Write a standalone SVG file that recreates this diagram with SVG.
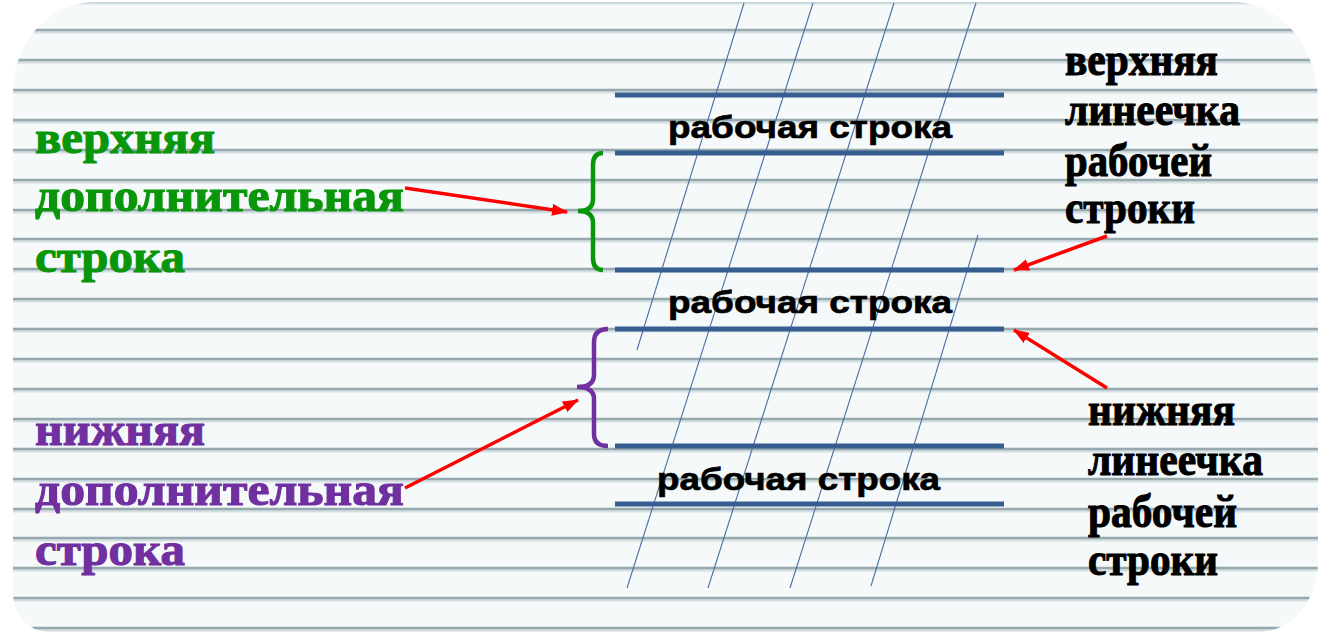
<svg xmlns="http://www.w3.org/2000/svg" width="1320" height="635" viewBox="0 0 1320 635">
<defs>
<clipPath id="sheet"><path d="M95,2 H1233 A85,100 0 0 1 1318,102 V562 A60,70 0 0 1 1258,632 H48 A35,40 0 0 1 13,592 V92 A82,90 0 0 1 95,2 Z"/></clipPath>
<marker id="ah" viewBox="0 0 16 12" refX="15" refY="6" markerWidth="16" markerHeight="12" markerUnits="userSpaceOnUse" orient="auto"><path d="M0,0 L16,6 L0,12 Z" fill="#ff0000"/></marker>
<style>
.rule{stroke:#97a9ae;stroke-width:2.4}
.ruleL{stroke:#d3dfe2;stroke-width:3}
.work{stroke:#375e91;stroke-width:5}
.slant{stroke:#4a6fa5;stroke-width:1.1}
.ws{font-family:"Liberation Sans",Arial,sans-serif;font-weight:bold;font-size:32px;fill:#000;stroke:#000;stroke-width:0.7}
.lbl{font-family:"Liberation Serif","Times New Roman",serif;font-weight:bold;font-size:47px;stroke-width:1.1}
.g{fill:#0a960a;stroke:#0a960a}
.p{fill:#7030a0;stroke:#7030a0}
.k{fill:#000;stroke:#000}
.arr{stroke:#ff0000;stroke-width:3.5;fill:none;marker-end:url(#ah)}
</style>
</defs>
<rect width="1320" height="635" fill="#ffffff"/>
<g id="sheet-bg" clip-path="url(#sheet)">
<rect x="0" y="0" width="1320" height="635" fill="#f5f9fa"/>
<g id="rules">
<line class="ruleL" x1="0" x2="1320" y1="3.1" y2="3.1"/><line class="rule" x1="0" x2="1320" y1="1" y2="1"/>
<line class="ruleL" x1="0" x2="1320" y1="32" y2="32"/><line class="rule" x1="0" x2="1320" y1="30" y2="30"/>
<line class="ruleL" x1="0" x2="1320" y1="62" y2="62"/><line class="rule" x1="0" x2="1320" y1="60" y2="60"/>
<line class="ruleL" x1="0" x2="1320" y1="92" y2="92"/><line class="rule" x1="0" x2="1320" y1="90" y2="90"/>
<line class="ruleL" x1="0" x2="1320" y1="122" y2="122"/><line class="rule" x1="0" x2="1320" y1="120" y2="120"/>
<line class="ruleL" x1="0" x2="1320" y1="152" y2="152"/><line class="rule" x1="0" x2="1320" y1="150" y2="150"/>
<line class="ruleL" x1="0" x2="1320" y1="182" y2="182"/><line class="rule" x1="0" x2="1320" y1="180" y2="180"/>
<line class="ruleL" x1="0" x2="1320" y1="212" y2="212"/><line class="rule" x1="0" x2="1320" y1="210" y2="210"/>
<line class="ruleL" x1="0" x2="1320" y1="241" y2="241"/><line class="rule" x1="0" x2="1320" y1="239" y2="239"/>
<line class="ruleL" x1="0" x2="1320" y1="271" y2="271"/><line class="rule" x1="0" x2="1320" y1="269" y2="269"/>
<line class="ruleL" x1="0" x2="1320" y1="301" y2="301"/><line class="rule" x1="0" x2="1320" y1="299" y2="299"/>
<line class="ruleL" x1="0" x2="1320" y1="331" y2="331"/><line class="rule" x1="0" x2="1320" y1="329" y2="329"/>
<line class="ruleL" x1="0" x2="1320" y1="361" y2="361"/><line class="rule" x1="0" x2="1320" y1="359" y2="359"/>
<line class="ruleL" x1="0" x2="1320" y1="391" y2="391"/><line class="rule" x1="0" x2="1320" y1="389" y2="389"/>
<line class="ruleL" x1="0" x2="1320" y1="421" y2="421"/><line class="rule" x1="0" x2="1320" y1="419" y2="419"/>
<line class="ruleL" x1="0" x2="1320" y1="451" y2="451"/><line class="rule" x1="0" x2="1320" y1="449" y2="449"/>
<line class="ruleL" x1="0" x2="1320" y1="481" y2="481"/><line class="rule" x1="0" x2="1320" y1="479" y2="479"/>
<line class="ruleL" x1="0" x2="1320" y1="511" y2="511"/><line class="rule" x1="0" x2="1320" y1="509" y2="509"/>
<line class="ruleL" x1="0" x2="1320" y1="540" y2="540"/><line class="rule" x1="0" x2="1320" y1="538" y2="538"/>
<line class="ruleL" x1="0" x2="1320" y1="570" y2="570"/><line class="rule" x1="0" x2="1320" y1="568" y2="568"/>
<line class="ruleL" x1="0" x2="1320" y1="600" y2="600"/><line class="rule" x1="0" x2="1320" y1="598" y2="598"/>
<line class="ruleL" x1="0" x2="1320" y1="630" y2="630"/><line class="rule" x1="0" x2="1320" y1="628" y2="628"/>
</g>
</g>
<g id="slants">
<line class="slant" x1="744" y1="3" x2="637" y2="350"/>
<line class="slant" x1="813" y1="3" x2="627" y2="588"/>
<line class="slant" x1="894" y1="3" x2="708" y2="588"/>
<line class="slant" x1="976" y1="3" x2="790" y2="588"/>
<line class="slant" x1="978" y1="235" x2="871" y2="586"/>
</g>
<g id="work-lines">
<line class="work" x1="615" y1="95" x2="1004" y2="95"/>
<line class="work" x1="615" y1="153" x2="1004" y2="153"/>
<line class="work" x1="615" y1="270" x2="1004" y2="270"/>
<line class="work" x1="615" y1="329" x2="1004" y2="329"/>
<line class="work" x1="615" y1="446" x2="1004" y2="446"/>
<line class="work" x1="615" y1="504" x2="1004" y2="504"/>
</g>
<g id="work-row-1"><text class="ws" x="668" y="138" textLength="284" lengthAdjust="spacingAndGlyphs">рабочая строка</text></g>
<g id="work-row-2"><text class="ws" x="668" y="313" textLength="284" lengthAdjust="spacingAndGlyphs">рабочая строка</text></g>
<g id="work-row-3"><text class="ws" x="657" y="490" textLength="283" lengthAdjust="spacingAndGlyphs">рабочая строка</text></g>
<g id="brace-upper"><path d="M603,153 Q593,153 593,165 L593,199 Q593,211 578,211 Q593,211 593,223 L593,258 Q593,270 603,270" fill="none" stroke="#0a960a" stroke-width="4.5"/></g>
<g id="brace-lower"><path d="M608,329 Q594,329 594,342 L594,375 Q594,387 577,387 Q594,387 594,399 L594,434 Q594,446 608,446" fill="none" stroke="#7030a0" stroke-width="4.5"/></g>
<g id="label-upper-extra">
<text class="lbl g" x="35" y="153" textLength="180" lengthAdjust="spacingAndGlyphs">верхняя</text>
<text class="lbl g" x="35" y="211" textLength="369" lengthAdjust="spacingAndGlyphs">дополнительная</text>
<text class="lbl g" x="35" y="272" textLength="150" lengthAdjust="spacingAndGlyphs">строка</text>
</g>
<g id="label-lower-extra">
<text class="lbl p" x="35" y="445" textLength="170" lengthAdjust="spacingAndGlyphs">нижняя</text>
<text class="lbl p" x="35" y="505" textLength="369" lengthAdjust="spacingAndGlyphs">дополнительная</text>
<text class="lbl p" x="35" y="565" textLength="150" lengthAdjust="spacingAndGlyphs">строка</text>
</g>
<g id="label-upper-line">
<text class="lbl k" x="1065" y="75" textLength="153" lengthAdjust="spacingAndGlyphs">верхняя</text>
<text class="lbl k" x="1065" y="125" textLength="175" lengthAdjust="spacingAndGlyphs">линеечка</text>
<text class="lbl k" x="1065" y="176" textLength="147" lengthAdjust="spacingAndGlyphs">рабочей</text>
<text class="lbl k" x="1065" y="223" textLength="130" lengthAdjust="spacingAndGlyphs">строки</text>
</g>
<g id="label-lower-line">
<text class="lbl k" x="1088" y="425" textLength="147" lengthAdjust="spacingAndGlyphs">нижняя</text>
<text class="lbl k" x="1088" y="475" textLength="175" lengthAdjust="spacingAndGlyphs">линеечка</text>
<text class="lbl k" x="1088" y="527" textLength="149" lengthAdjust="spacingAndGlyphs">рабочей</text>
<text class="lbl k" x="1088" y="575" textLength="130" lengthAdjust="spacingAndGlyphs">строки</text>
</g>
<g id="connectors">
<line class="arr" x1="405" y1="188" x2="567" y2="212"/>
<line class="arr" x1="405" y1="488" x2="578" y2="400"/>
<line class="arr" x1="1107" y1="236" x2="1014" y2="270"/>
<line class="arr" x1="1107" y1="388" x2="1014" y2="330"/>
</g>
</svg>
